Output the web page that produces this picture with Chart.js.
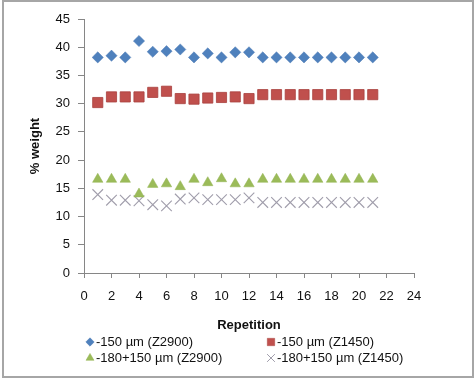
<!DOCTYPE html>
<html>
<head>
<meta charset="utf-8">
<script src="https://cdn.jsdelivr.net/npm/chart.js@4/dist/chart.umd.min.js"></script>
<style>
  html, body { margin: 0; padding: 0; background: #ffffff; }
  canvas { display: block; }
</style>
</head>
<body>
<canvas id="c" width="474" height="380"></canvas>
<script>
// ---- data ----
const repetitions = [1, 2, 3, 4, 5, 6, 7, 8, 9, 10, 11, 12, 13, 14, 15, 16, 17, 18, 19, 20, 21];
const s150_Z2900 = [38.2, 38.5, 38.2, 41.1, 39.2, 39.3, 39.6, 38.2, 38.9, 38.2, 39.1, 39.1, 38.2, 38.2, 38.2, 38.2, 38.2, 38.2, 38.2, 38.2, 38.2];
const s150_Z1450 = [30.2, 31.2, 31.2, 31.2, 32.0, 32.2, 30.9, 30.8, 31.0, 31.1, 31.2, 30.9, 31.6, 31.6, 31.6, 31.6, 31.6, 31.6, 31.6, 31.6, 31.6];
const s180_Z2900 = [16.6, 16.6, 16.6, 14.0, 15.7, 15.8, 15.3, 16.6, 16.0, 16.7, 15.8, 15.8, 16.6, 16.6, 16.6, 16.6, 16.6, 16.6, 16.6, 16.6, 16.6];
const s180_Z1450 = [13.9, 12.9, 12.9, 12.8, 12.1, 11.9, 13.1, 13.3, 13.0, 13.0, 13.0, 13.3, 12.5, 12.5, 12.5, 12.5, 12.5, 12.5, 12.5, 12.5, 12.5];
const seriesLabels = ['-150 µm (Z2900)', '-150 µm (Z1450)', '-180+150 µm (Z2900)', '-180+150 µm (Z1450)'];
const xTitle = 'Repetition';
const yTitle = '% weight';

const toPoints = (ys) => repetitions.map((x, i) => ({ x: x, y: ys[i] }));

Chart.defaults.font.family = "'Liberation Sans', Arial, sans-serif";
Chart.defaults.color = '#111111';

const AXIS = '#868686';

const framePlugin = {
  id: 'frame',
  beforeDraw(chart) {
    const ctx = chart.ctx;
    ctx.save();
    ctx.fillStyle = '#ffffff';
    ctx.fillRect(0, 0, chart.width, chart.height);
    ctx.strokeStyle = '#a6a6a6';
    ctx.lineWidth = 2;
    ctx.strokeRect(3, 1, 470, 376);
    ctx.restore();
  }
};

const legendSpec = [
  { mx: 90, my: 342, tx: 96, r: 4.2 },
  { mx: 271, my: 342, tx: 277, r: 5.2 },
  { mx: 90, my: 358, tx: 96, r: 4.6 },
  { mx: 271, my: 358, tx: 277, r: 5.5 }
];

const customLegend = {
  id: 'customLegend',
  afterDraw(chart) {
    const ctx = chart.ctx;
    ctx.save();
    chart.data.datasets.forEach((ds, i) => {
      const p = legendSpec[i];
      ctx.fillStyle = ds.backgroundColor;
      ctx.strokeStyle = ds.borderColor;
      ctx.lineWidth = ds.pointStyle === 'crossRot' ? 1 : 0.5;
      Chart.helpers.drawPoint(ctx, { pointStyle: ds.pointStyle, radius: p.r, borderWidth: ctx.lineWidth, rotation: 0 }, p.mx, p.my);
      ctx.fillStyle = '#111111';
      ctx.font = "13px 'Liberation Sans', Arial, sans-serif";
      ctx.textBaseline = 'middle';
      ctx.textAlign = 'left';
      ctx.fillText(ds.label, p.tx, p.my);
    });
    ctx.restore();
  }
};

new Chart(document.getElementById('c'), {
  type: 'scatter',
  data: {
    datasets: [
      { label: seriesLabels[0], data: toPoints(s150_Z2900), pointStyle: 'rectRot', radius: 5.6,
        backgroundColor: '#4f81bd', borderColor: '#4a79b3', borderWidth: 0.5 },
      { label: seriesLabels[1], data: toPoints(s150_Z1450), pointStyle: 'rect', radius: 7.2,
        backgroundColor: '#c0504d', borderColor: '#a8403d', borderWidth: 0.8 },
      { label: seriesLabels[2], data: toPoints(s180_Z2900), pointStyle: 'triangle', radius: 6,
        backgroundColor: '#9bbb59', borderColor: '#93b352', borderWidth: 0.5 },
      { label: seriesLabels[3], data: toPoints(s180_Z1450), pointStyle: 'crossRot', radius: 7.5,
        backgroundColor: '#a09dab', borderColor: '#a09dab', borderWidth: 1.1 }
    ]
  },
  options: {
    responsive: false,
    animation: false,
    events: [],
    devicePixelRatio: 1,
    layout: { padding: { left: 0, top: 19, right: 60, bottom: 47 } },
    plugins: {
      legend: { display: false },
      tooltip: { enabled: false }
    },
    scales: {
      x: {
        type: 'linear',
        min: 0, max: 24,
        ticks: { stepSize: 2, font: { size: 13 }, padding: 11, color: '#111111', maxRotation: 0 },
        grid: { drawOnChartArea: false, drawTicks: true, tickLength: 5, color: AXIS },
        border: { display: true, color: AXIS, width: 1 },
        title: { display: true, text: xTitle, font: { size: 13, weight: 'bold' }, color: '#111111', padding: { top: 4, bottom: 0 } },
        afterFit(scale) { scale.height = 60; }
      },
      y: {
        type: 'linear',
        min: 0, max: 45,
        ticks: { stepSize: 5, font: { size: 13 }, padding: 8, color: '#111111' },
        grid: { drawOnChartArea: false, drawTicks: true, tickLength: 6, color: AXIS },
        border: { display: true, color: AXIS, width: 1 },
        title: { display: true, text: yTitle, font: { size: 13, weight: 'bold' }, color: '#111111', padding: { top: 28, bottom: 0 } },
        afterFit(scale) { scale.width = 84; }
      }
    }
  },
  plugins: [framePlugin, customLegend]
});
</script>
</body>
</html>
